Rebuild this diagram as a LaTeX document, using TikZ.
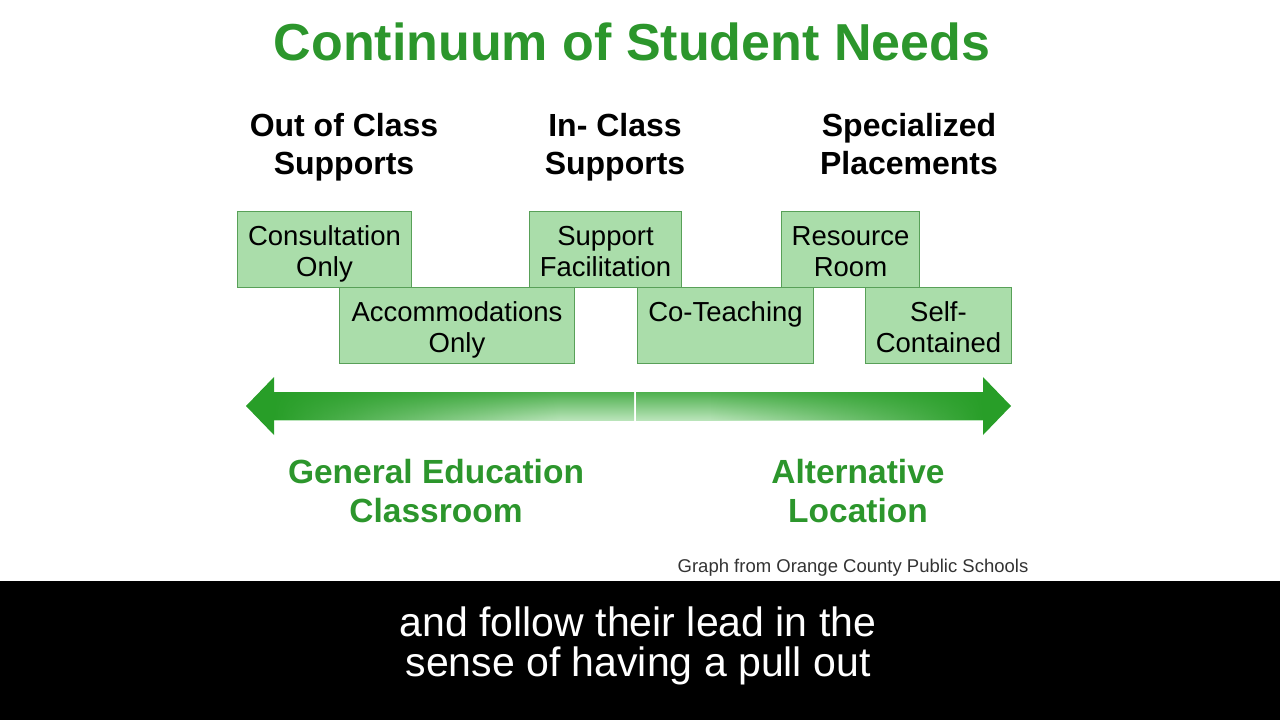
\documentclass[tikz,border=0pt]{standalone}
\usepackage{fontspec}
\setmainfont{Liberation Sans}
\usetikzlibrary{positioning, fadings}
\definecolor{titlegreen}{RGB}{44,150,44}
\definecolor{boxfill}{RGB}{170,221,170}
\definecolor{boxline}{RGB}{88,160,88}
\definecolor{arrowgreen}{RGB}{40,158,40}
\definecolor{shafttop}{RGB}{78,176,78}
\definecolor{shaftbottom}{RGB}{185,228,185}

\begin{document}
\begin{tikzpicture}[x=1pt,y=-1pt]
	\tikzstyle{heading} = [font=\fontsize{32}{38}\selectfont\bfseries, align=center, text=black, text height=61pt, text depth=7pt]
	\tikzstyle{option} = [rectangle, draw=boxline, line width=1pt, fill=boxfill, anchor=north west, minimum height=76pt, inner sep=0pt, align=center, text height=60pt, text depth=7pt, font=\fontsize{27.5}{31}\selectfont]
	\tikzstyle{place} = [font=\fontsize{33.5}{39}\selectfont\bfseries, align=center, text=titlegreen]
	\tikzstyle{shaft} = [top color=shafttop, bottom color=shaftbottom]
	\useasboundingbox (0,0) rectangle (1280,720);
	\node (title) at (632,42) [font=\fontsize{52}{60}\selectfont\bfseries, text=titlegreen] {Continuum of Student Needs};
	\node (outClass) at (344,147) [heading] {Out of Class\\Supports};
	\node (inClass) at (615,147) [heading] {In- Class\\Supports};
	\node (special) at (909,147) [heading] {Specialized\\Placements};
	\node (consult) at (237,211) [option, minimum width=174pt] {Consultation\\Only};
	\node (support) at (529,211) [option, minimum width=152pt] {Support\\Facilitation};
	\node (resource) at (781,211) [option, minimum width=138pt] {Resource\\Room};
	\node (accom) at (339,287) [option, minimum width=235pt] {Accommodations\\Only};
	\node (coTeach) at (637,287) [option, minimum width=176pt] {Co-Teaching\\\mbox{}};
	\node (selfCont) at (865,287) [option, minimum width=146pt] {Self-\\Contained};
	% double arrow, dark at both heads, pale toward the middle
	\coordinate (tipL) at (246,406);
	\coordinate (tipR) at (1011,406);
	\fill [shaft] (273,392) rectangle (634,420);
	\fill [shaft] (636,392) rectangle (984,420);
	\fill [arrowgreen, path fading=east] (273,392) rectangle (560,420);
	\fill [arrowgreen, path fading=west] (710,392) rectangle (984,420);
	\fill [arrowgreen] (tipL) -- ++(28,-29) -- ++(0,58) -- cycle;
	\fill [arrowgreen] (tipR) -- ++(-28,-29) -- ++(0,58) -- cycle;
	\node (genEd) at (436,491) [place] {General Education\\Classroom};
	\node (altLoc) at (858,491) [place] {Alternative\\Location};
	\node (credit) at (853,568) [font=\fontsize{18.5}{20}\selectfont, text=black!80] {Graph from Orange County Public Schools};
	% caption band
	\fill [black] (0,581) rectangle (1280,720);
	\node (caption) at (638,646) [font=\fontsize{41}{40}\selectfont, text=white, align=center] {and follow their lead in the\\sense of having a pull out};
\end{tikzpicture}
\end{document}
